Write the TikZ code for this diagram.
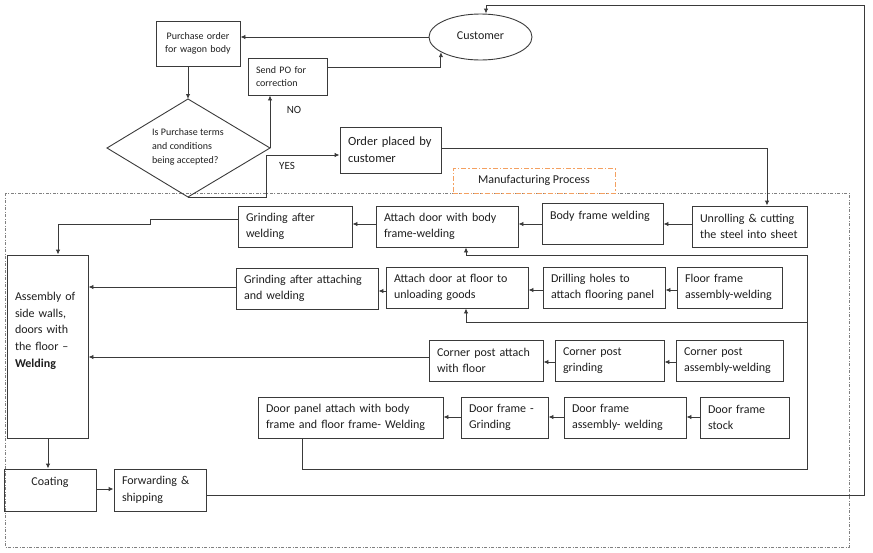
\documentclass[tikz,border=0pt]{standalone}
\usepackage{fontspec}
\setmainfont{Carlito}
\usetikzlibrary{arrows.meta,shapes.geometric}
\definecolor{ln}{HTML}{3A3A3A}
\definecolor{tx}{HTML}{1E1E1E}
\definecolor{orng}{HTML}{F4A060}
\newcommand\mkbox[7][]{%
  \pgfmathsetmacro\bxw{#5-#3}\pgfmathsetmacro\bxh{#6-#4}\pgfmathsetmacro\bxt{#5-#3-16}%
  \node[box,minimum width=\bxw pt,minimum height=\bxh pt,text width=\bxt pt,#1] (#2) at ({(#3+#5)/2},{(#4+#6)/2}) {#7};}
\begin{document}
\begin{tikzpicture}[x=1pt,y=-1pt,
  box/.style={draw=ln,line width=0.9pt,rectangle,inner xsep=8pt,inner ysep=0pt,align=left,text=tx,
     font=\fontsize{12}{16.7}\selectfont},
  small/.style={font=\fontsize{10}{13}\selectfont},
  arr/.style={draw=ln,line width=0.9pt,-{Latex[length=5pt,width=4.5pt]}},
  conn/.style={draw=ln,line width=0.9pt},
  lbl/.style={text=tx,font=\fontsize{11}{13}\selectfont,inner sep=0pt}]
\useasboundingbox (0,0) rectangle (873,552);

% outer manufacturing region
\draw[gray,line width=0.8pt,dash pattern=on 3pt off 1.5pt on 1pt off 1.5pt] (5,193) rectangle (849,547);
\node[draw=orng,line width=0.8pt,dash pattern=on 5pt off 2pt on 1.5pt off 2pt,minimum width=162pt,minimum height=25pt,
  text=tx,font=\fontsize{12}{14}\selectfont] (mp) at (534,180.5) {Manufacturing Process};

% top part
\node[draw=ln,line width=0.9pt,ellipse,minimum width=103pt,minimum height=46pt,inner sep=0pt,text=tx,
  font=\fontsize{12}{14}\selectfont] (cust) at (480.5,37) {\raisebox{3pt}{Customer}};
\mkbox[small,align=center]{po}{156}{21}{240}{66}{Purchase order\\for wagon body\\[4pt]}
\mkbox[small]{sendpo}{248}{58}{327}{95}{Send PO for\\correction}
\mkbox[font=\fontsize{12.5}{16.7}\selectfont]{order}{340}{127}{441}{173}{Order placed by\\customer}

\coordinate (dl) at (107,148);
\coordinate (dt) at (188,99);
\coordinate (dr) at (270,148);
\coordinate (db) at (188,197);
\draw[conn] (dl) -- (dt) -- (dr) -- (db) -- cycle;
\node[anchor=west,align=left,text=tx,inner sep=0pt,font=\fontsize{10}{14}\selectfont] (dq) at (152,147)
  {Is Purchase terms\\and conditions\\being accepted?};
\node[lbl] (no) at (294,110) {NO};
\node[lbl] (yes) at (287,166) {YES};

% row 1
\mkbox{unroll}{692}{206}{807}{247}{Unrolling \& cutting\\the steel into sheet}
\mkbox{body}{542}{203}{663}{244}{Body frame  welding\\\mbox{}}
\mkbox{attbody}{376}{206}{518}{247}{Attach door with  body\\frame-welding}
\mkbox{grind1}{238}{206}{352}{247}{Grinding after\\welding}
% row 2
\mkbox{floorf}{677}{267}{782}{308}{Floor frame\\\mbox{assembly-welding}}
\mkbox{drill}{543}{267}{665}{308}{Drilling holes to\\\mbox{attach flooring panel}}
\mkbox{attfloor}{386}{267}{528}{308}{Attach door at floor to\\unloading goods}
\mkbox{grind2}{236}{268}{378}{309}{\mbox{Grinding after  attaching}\\and welding}
% row 3
\mkbox{cpass}{676}{340}{783}{381}{Corner post\\\mbox{assembly-welding}}
\mkbox{cpgrind}{555}{340}{664}{381}{Corner post\\grinding}
\mkbox{cpatt}{429}{340}{543}{381}{\mbox{Corner post attach}\\with floor}
% row 4
\mkbox{dfstock}{700}{397}{789}{438}{Door frame\\stock}
\mkbox{dfass}{564}{397}{686}{438}{Door frame\\\mbox{assembly- welding}}
\mkbox{dfgrind}{461}{397}{548}{438}{Door frame -\\Grinding}
\mkbox{dpanel}{258}{397}{443}{438}{Door panel attach  with body\\\mbox{frame  and floor frame- Welding}}
% left column
\mkbox{assembly}{7}{255}{88}{438}{Assembly of\\side walls,\\doors with\\the floor --\\\textbf{Welding}\\\mbox{}\\\mbox{}}
\mkbox[align=center]{coating}{4}{469}{96}{511}{Coating\\\mbox{}}
\mkbox{fwd}{114}{469}{206}{511}{Forwarding \&\\shipping}

% connectors, top
\draw[arr] (cust.west) -- (po.east |- cust.west);
\draw[arr] (po.south -| dt) -- (dt);
\draw[arr] (dr) -- (sendpo.south -| dr);
\draw[arr] (sendpo.east |- 0,67) -| (cust.201.7);
\draw[arr] (db) -- (266,197) -- (266,155) -- (order.west |- 0,155);
\draw[arr] (order.east |- 0,148) -| (unroll.north -| 767,0);

% row arrows
\draw[arr] (unroll.west |- 0,224) -- (body.east |- 0,224);
\draw[arr] (body.west |- 0,224) -- (attbody.east |- 0,224);
\draw[arr] (attbody.west |- 0,224) -- (grind1.east |- 0,224);
\draw[arr] (grind1.west |- 0,219) -- (150,219) -- (150,224) -- (58,224) -- (assembly.north -| 58,0);

\draw[arr] (floorf.west |- 0,290) -- (drill.east |- 0,290);
\draw[arr] (drill.west |- 0,290) -- (attfloor.east |- 0,290);
\draw[arr] (attfloor.west |- 0,291) -- (grind2.east |- 0,291);
\draw[arr] (grind2.west |- 0,287) -- (assembly.east |- 0,287);

\draw[arr] (cpass.west |- 0,362) -- (cpgrind.east |- 0,362);
\draw[arr] (cpgrind.west |- 0,362) -- (cpatt.east |- 0,362);
\draw[arr] (cpatt.west |- 0,357) -- (assembly.east |- 0,357);

\draw[arr] (dfstock.west |- 0,417) -- (dfass.east |- 0,417);
\draw[arr] (dfass.west |- 0,417) -- (dfgrind.east |- 0,417);
\draw[arr] (dfgrind.west |- 0,417) -- (dpanel.east |- 0,417);

% feedback loops
\draw[arr] (dpanel.south -| 302,0) -- (302,469) -- (807,469) -- (807,255) -- (466,255) -- (attbody.south -| 466,0);
\draw[arr] (807,322) -- (466,322) -- (attfloor.south -| 466,0);

% bottom
\draw[arr] (assembly.south -| 48,0) -- (coating.north -| 48,0);
\draw[arr] (coating.east |- 0,489) -- (fwd.west |- 0,489);
\draw[arr] (fwd.east |- 0,495) -- (864,495) -- (864,5) -- (486,5) -- (cust.north -| 486,0);
\end{tikzpicture}
\end{document}
